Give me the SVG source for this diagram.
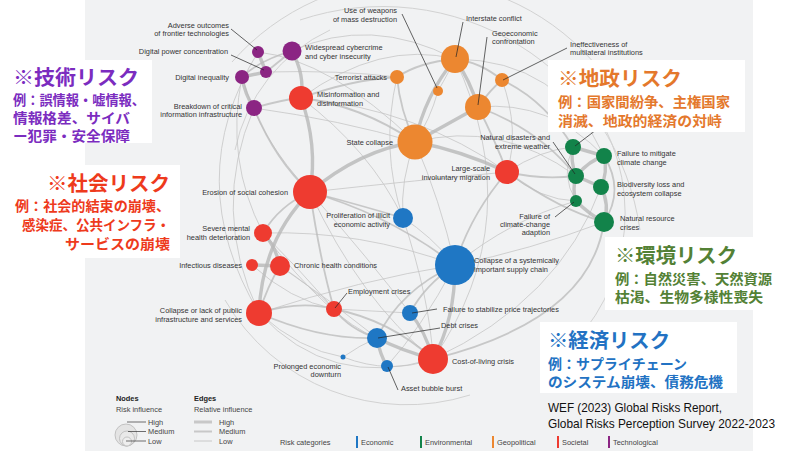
<svg xmlns="http://www.w3.org/2000/svg" width="800" height="451" viewBox="0 0 800 451">
<style>
.bg{fill:#f1f2f3}
.e1{fill:none;stroke:#c4c4c4;stroke-width:0.9;stroke-opacity:0.85}
.e2{fill:none;stroke:#bdbdbd;stroke-width:1.8;stroke-opacity:0.8}
.e3{fill:none;stroke:#b8b8b8;stroke-width:3.4;stroke-opacity:0.8}
.arc{fill:none;stroke:#d2d2d2;stroke-width:1}
.lbl{font-family:"Liberation Sans",Arial,sans-serif;font-size:7.4px;fill:#333}
.r{text-anchor:end}
.ld{stroke:#222;stroke-width:0.7;fill:none}
.eco{fill:#1f77c4}.env{fill:#12834a}.geo{fill:#ec8730}.soc{fill:#ee3b30}.tech{fill:#8b2583}
.jp{font-family:"Noto Sans CJK JP",sans-serif;font-weight:bold}
.t{font-size:20px}.s{font-size:14px}
.box{fill:#ffffff}
.lg{font-family:"Liberation Sans",Arial,sans-serif;font-size:7.4px;fill:#444}
.lgb{font-family:"Liberation Sans",Arial,sans-serif;font-size:7.4px;fill:#222;font-weight:bold}
.ref{font-family:"Liberation Sans",Arial,sans-serif;font-size:13px;fill:#111}
</style>
<rect x="0" y="0" width="800" height="451" fill="#ffffff"/>
<rect class="bg" x="85" y="0" width="668" height="451"/>

<g id="connectors">
<path class="arc" d="M232,62 A240 240 0 0 1 600,70"/>
<path class="arc" d="M560,70 A190 190 0 0 1 585,330"/>
<path class="arc" d="M225,300 A210 210 0 0 0 470,395"/>
<path class="arc" d="M300,20 A260 260 0 0 1 640,230"/>
<path class="arc" d="M235,150 A170 170 0 0 1 330,30"/>
<path class="e1" d="M292,51 Q370,15 455,59"/>
<path class="e1" d="M301,98 Q380,40 455,59"/>
<path class="e1" d="M258,52 Q330,60 415,142"/>
<path class="e1" d="M242,77 Q260,140 310,192"/>
<path class="e1" d="M310,192 Q360,300 433,359"/>
<path class="e1" d="M259,313 Q330,390 433,359"/>
<path class="e1" d="M343,357 Q360,345 377,338"/>
<path class="e1" d="M343,357 Q390,375 433,359"/>
<path class="e1" d="M343,357 Q300,350 259,313"/>
<path class="e1" d="M263,233 Q300,270 334,309"/>
<path class="e1" d="M280,266 Q310,285 334,309"/>
<path class="e1" d="M403,218 Q430,235 455,265"/>
<path class="e1" d="M403,218 Q400,180 415,142"/>
<path class="e1" d="M415,142 Q500,120 576,176"/>
<path class="e1" d="M478,107 Q550,100 604,156"/>
<path class="e1" d="M455,59 Q560,60 604,156"/>
<path class="e1" d="M507,172 Q540,150 573,147"/>
<path class="e1" d="M507,172 Q540,200 576,201"/>
<path class="e1" d="M604,222 Q530,250 455,265"/>
<path class="e1" d="M576,201 Q510,220 455,265"/>
<path class="e1" d="M433,359 Q560,300 601,187"/>
<path class="e1" d="M415,142 Q440,200 455,265"/>
<path class="e1" d="M254,108 Q210,210 259,313"/>
<path class="e1" d="M242,77 Q225,160 263,233"/>
<path class="e1" d="M258,52 Q180,180 259,313"/>
<path class="e1" d="M455,59 Q530,220 433,359"/>
<path class="e1" d="M301,98 Q370,150 403,218"/>
<path class="e1" d="M310,192 Q370,260 410,313"/>
<path class="e1" d="M334,309 L410,313"/>
<path class="e1" d="M280,266 Q330,300 377,338"/>
<path class="e1" d="M403,218 Q430,300 433,359"/>
<path class="e1" d="M301,98 Q420,110 507,172"/>
<path class="e1" d="M397,77 Q380,150 403,218"/>
<path class="e1" d="M263,233 Q360,230 455,265"/>
<path class="e1" d="M252,265 Q290,300 334,309"/>
<path class="e1" d="M455,265 Q420,330 387,366"/>
<path class="e1" d="M502,80 Q520,130 507,172"/>
<path class="e1" d="M573,147 Q560,175 576,201"/>
<path class="e1" d="M266,72 Q340,70 397,77"/>
<path class="e1" d="M254,108 Q340,120 415,142"/>
<path class="e1" d="M310,192 Q420,180 507,172"/>
<path class="e1" d="M259,313 Q360,280 455,265"/>
<path class="e1" d="M438,91 Q430,120 415,142"/>
<path class="e1" d="M438,91 Q450,70 455,59"/>
<path class="e1" d="M263,233 Q330,320 377,338"/>
<path class="e2" d="M455,59 Q420,62 397,77"/>
<path class="e2" d="M397,77 Q400,110 415,142"/>
<path class="e2" d="M455,59 Q480,62 502,80"/>
<path class="e2" d="M502,80 Q490,90 478,107"/>
<path class="e2" d="M301,98 Q360,105 415,142"/>
<path class="e2" d="M301,98 Q350,80 397,77"/>
<path class="e2" d="M310,192 Q360,205 403,218"/>
<path class="e2" d="M310,192 Q320,260 334,309"/>
<path class="e2" d="M310,192 Q280,205 263,233"/>
<path class="e2" d="M507,172 Q540,180 576,176"/>
<path class="e2" d="M507,172 Q470,215 455,265"/>
<path class="e2" d="M507,172 Q560,210 604,222"/>
<path class="e2" d="M455,265 Q425,285 410,313"/>
<path class="e2" d="M455,265 Q400,290 377,338"/>
<path class="e2" d="M334,309 Q350,330 377,338"/>
<path class="e2" d="M334,309 Q390,320 433,359"/>
<path class="e2" d="M259,313 Q300,300 334,309"/>
<path class="e2" d="M259,313 Q268,285 280,266"/>
<path class="e2" d="M254,108 Q275,160 310,192"/>
<path class="e2" d="M254,108 Q280,100 301,98"/>
<path class="e2" d="M502,80 Q545,100 573,147"/>
<path class="e2" d="M478,107 Q495,140 507,172"/>
<path class="e2" d="M310,192 Q390,215 455,265"/>
<path class="e2" d="M377,338 Q320,340 259,313"/>
<path class="e2" d="M478,107 Q540,130 576,176"/>
<path class="e2" d="M292,51 L266,72"/>
<path class="e2" d="M292,51 Q260,60 242,77"/>
<path class="e2" d="M604,156 Q625,190 604,222"/>
<path class="e2" d="M433,359 Q590,320 604,222"/>
<path class="e3" d="M455,59 Q470,80 478,107"/>
<path class="e3" d="M415,142 Q360,150 310,192"/>
<path class="e3" d="M310,192 Q262,240 259,313"/>
<path class="e3" d="M263,233 Q275,245 280,266"/>
<path class="e3" d="M252,265 L280,266"/>
<path class="e3" d="M377,338 Q400,350 433,359"/>
<path class="e3" d="M410,313 Q425,330 433,359"/>
<path class="e3" d="M377,338 Q380,355 387,366"/>
<path class="e3" d="M573,147 Q570,160 576,176"/>
<path class="e3" d="M576,176 Q572,190 576,201"/>
<path class="e3" d="M604,156 Q608,172 601,187"/>
<path class="e3" d="M601,187 Q610,205 604,222"/>
<path class="e3" d="M576,176 Q590,160 604,156"/>
<path class="e3" d="M573,147 L604,156"/>
<path class="e3" d="M576,176 L601,187"/>
<path class="e3" d="M576,201 Q590,215 604,222"/>
<path class="e3" d="M258,52 L266,72"/>
<path class="e3" d="M266,72 L242,77"/>
<path class="e3" d="M242,77 Q245,95 254,108"/>
<path class="e3" d="M292,51 Q305,75 301,98"/>
<path class="e3" d="M455,59 Q425,95 415,142"/>
<path class="e3" d="M310,192 Q318,145 301,98"/>
<path class="e3" d="M415,142 Q455,120 478,107"/>
<path class="e3" d="M507,172 Q460,150 415,142"/>
<path class="e3" d="M455,265 Q455,320 433,359"/>
</g>

<g id="adverse-outcomes"><circle class="tech" cx="258" cy="52" r="6"/><path class="ld" d="M231,29 L257,50"/><text class="lbl r" x="229" y="27.5">Adverse outcomes</text><text class="lbl r" x="229" y="36">of frontier technologies</text></g>
<g id="digital-power"><circle class="tech" cx="266" cy="72" r="6"/><path class="ld" d="M231,55 L264,70"/><text class="lbl r" x="228" y="54">Digital power concentration</text></g>
<g id="digital-inequality"><circle class="tech" cx="242" cy="77" r="7"/><text class="lbl r" x="229" y="79.5">Digital inequality</text></g>
<g id="cybercrime"><circle class="tech" cx="292" cy="51" r="9.5"/><text class="lbl" x="305" y="50">Widespread cybercrime</text><text class="lbl" x="305" y="58.5">and cyber insecurity</text></g>
<g id="breakdown-infra"><circle class="tech" cx="254" cy="108" r="8"/><text class="lbl r" x="242" y="108.5">Breakdown of critical</text><text class="lbl r" x="242" y="117">information infrastructure</text></g>

<g id="wmd"><circle class="geo" cx="438" cy="91" r="5"/><path class="ld" d="M402,14 L437,88"/><text class="lbl r" x="397" y="13">Use of weapons</text><text class="lbl r" x="397" y="21.5">of mass destruction</text></g>
<g id="interstate"><circle class="geo" cx="455" cy="59" r="14"/><path class="ld" d="M463,22 L456,57"/><text class="lbl" x="466" y="21">Interstate conflict</text></g>
<g id="geoeconomic"><circle class="geo" cx="478" cy="107" r="13"/><path class="ld" d="M487,37 L478,105"/><text class="lbl" x="492" y="35.5">Geoeconomic</text><text class="lbl" x="492" y="44">confrontation</text></g>
<g id="ineffectiveness"><circle class="geo" cx="502" cy="80" r="7"/><path class="ld" d="M567,48 L503,80"/><text class="lbl" x="570" y="46.5">Ineffectiveness of</text><text class="lbl" x="570" y="55">multilateral institutions</text></g>
<g id="terrorist"><circle class="geo" cx="397" cy="77" r="7"/><text class="lbl r" x="387" y="80">Terrorist attacks</text></g>
<g id="state-collapse"><circle class="geo" cx="415" cy="142" r="17.5"/><text class="lbl r" x="393" y="145">State collapse</text></g>

<g id="misinformation"><circle class="soc" cx="301" cy="98" r="12"/><text class="lbl" x="317" y="97">Misinformation and</text><text class="lbl" x="317" y="105.5">disinformation</text></g>
<g id="migration"><circle class="soc" cx="507" cy="172" r="12"/><text class="lbl r" x="490" y="171">Large-scale</text><text class="lbl r" x="490" y="179.5">involuntary migration</text></g>
<g id="erosion"><circle class="soc" cx="310" cy="192" r="17"/><text class="lbl r" x="288" y="195">Erosion of social cohesion</text></g>
<g id="mental-health"><circle class="soc" cx="263" cy="233" r="9"/><text class="lbl r" x="250" y="231">Severe mental</text><text class="lbl r" x="250" y="239.5">health deterioration</text></g>
<g id="infectious"><circle class="soc" cx="252" cy="265" r="6"/><text class="lbl r" x="242" y="268">Infectious diseases</text></g>
<g id="chronic"><circle class="soc" cx="280" cy="266" r="10"/><text class="lbl" x="294" y="268">Chronic health conditions</text></g>
<g id="public-infra"><circle class="soc" cx="259" cy="313" r="13"/><text class="lbl r" x="242" y="313">Collapse or lack of public</text><text class="lbl r" x="242" y="321.5">infrastructure and services</text></g>
<g id="employment"><circle class="soc" cx="334" cy="309" r="8"/><path class="ld" d="M347,293 L335,308"/><text class="lbl" x="348" y="293.5">Employment crises</text></g>
<g id="cost-of-living"><circle class="soc" cx="433" cy="359" r="15"/><text class="lbl" x="452" y="363.5">Cost-of-living crisis</text></g>

<g id="illicit"><circle class="eco" cx="403" cy="218" r="10"/><text class="lbl r" x="390" y="218">Proliferation of illicit</text><text class="lbl r" x="390" y="226.5">economic activity</text></g>
<g id="supply-chain"><circle class="eco" cx="455" cy="265" r="20"/><text class="lbl" x="474" y="263">Collapse of a systemically</text><text class="lbl" x="474" y="271.5">important supply chain</text></g>
<g id="price"><circle class="eco" cx="410" cy="313" r="8"/><path class="ld" d="M437,309 L412,313"/><text class="lbl" x="443" y="312">Failure to stabilize price trajectories</text></g>
<g id="debt"><circle class="eco" cx="377" cy="338" r="10"/><path class="ld" d="M440,328 L378,338"/><text class="lbl" x="441" y="327.5">Debt crises</text></g>
<g id="asset-bubble"><circle class="eco" cx="387" cy="366" r="6"/><path class="ld" d="M398,390 L388,367"/><text class="lbl" x="401" y="391">Asset bubble burst</text></g>
<g id="prolonged"><circle class="eco" cx="343" cy="357" r="2.5"/><text class="lbl r" x="341" y="368.5">Prolonged economic</text><text class="lbl r" x="341" y="377">downturn</text></g>

<g id="env-top"><circle class="env" cx="573" cy="147" r="8"/><path class="ld" d="M575,146 L596,130"/></g>
<g id="natural-disasters"><circle class="env" cx="576" cy="176" r="8"/><path class="ld" d="M553,142 L575,174"/><text class="lbl r" x="550" y="140">Natural disasters and</text><text class="lbl r" x="550" y="148.5">extreme weather</text></g>
<g id="adaption"><circle class="env" cx="576" cy="201" r="6"/><path class="ld" d="M555,217 L574,202"/><text class="lbl r" x="550" y="219">Failure of</text><text class="lbl r" x="550" y="227">climate-change</text><text class="lbl r" x="550" y="235">adaption</text></g>
<g id="mitigate"><circle class="env" cx="604" cy="156" r="8"/><text class="lbl" x="617" y="156">Failure to mitigate</text><text class="lbl" x="617" y="164.5">climate change</text></g>
<g id="biodiversity"><circle class="env" cx="601" cy="187" r="8"/><text class="lbl" x="617" y="187">Biodiversity loss and</text><text class="lbl" x="617" y="195.5">ecosystem collapse</text></g>
<g id="natural-resource"><circle class="env" cx="604" cy="222" r="10"/><text class="lbl" x="620" y="221">Natural resource</text><text class="lbl" x="620" y="229.5">crises</text></g>

<g id="legend">
<text class="lgb" x="116" y="400.5">Nodes</text>
<text class="lg" x="116" y="411.5">Risk influence</text>
<circle cx="126" cy="435" r="11" fill="#e4e4e4" stroke="#b8b8b8" stroke-width="0.8"/>
<circle cx="127" cy="438.5" r="7.5" fill="#e9e9e9" stroke="#b8b8b8" stroke-width="0.8"/>
<circle cx="127" cy="441.5" r="4.5" fill="#eeeeee" stroke="#b8b8b8" stroke-width="0.8"/>
<path d="M127,422 L146,422 M128,431.5 L146,431.5 M126,441 L146,441" stroke="#333" stroke-width="0.7"/>
<text class="lg" x="148" y="424.5">High</text>
<text class="lg" x="148" y="434">Medium</text>
<text class="lg" x="148" y="443.5">Low</text>
<text class="lgb" x="194" y="400.5">Edges</text>
<text class="lg" x="194" y="411.5">Relative influence</text>
<path d="M194,422 L212,422" stroke="#c8c8c8" stroke-width="3"/>
<path d="M194,431.5 L212,431.5" stroke="#c8c8c8" stroke-width="2"/>
<path d="M194,441 L212,441" stroke="#c8c8c8" stroke-width="1"/>
<text class="lg" x="219" y="424.5">High</text>
<text class="lg" x="219" y="434">Medium</text>
<text class="lg" x="219" y="443.5">Low</text>
<text class="lg" x="280" y="444.5">Risk categories</text>
<rect x="356" y="436" width="2" height="12" fill="#1f77c4"/><text class="lg" x="361" y="444.5">Economic</text>
<rect x="420" y="436" width="2" height="12" fill="#12834a"/><text class="lg" x="425" y="444.5">Environmental</text>
<rect x="492" y="436" width="2" height="12" fill="#ec8730"/><text class="lg" x="497" y="444.5">Geopolitical</text>
<rect x="557" y="436" width="2" height="12" fill="#ee3b30"/><text class="lg" x="562" y="444.5">Societal</text>
<rect x="608" y="436" width="2" height="12" fill="#8b2583"/><text class="lg" x="613" y="444.5">Technological</text>
</g>

<g id="note-tech">
<rect class="box" x="0" y="60" width="152" height="83"/>
<g class="jp" fill="#7b2cbf">
<text class="t" x="13" y="85" textLength="126" lengthAdjust="spacingAndGlyphs">※技術リスク</text>
<text class="s" x="13" y="105" textLength="132" lengthAdjust="spacingAndGlyphs">例：誤情報・嘘情報、</text>
<text class="s" x="13" y="123" textLength="117" lengthAdjust="spacingAndGlyphs">情報格差、サイバ</text>
<text class="s" x="13" y="141" textLength="117" lengthAdjust="spacingAndGlyphs">ー犯罪・安全保障</text>
</g>
</g>
<g id="note-soc">
<rect class="box" x="0" y="165" width="180" height="93"/>
<g class="jp" fill="#ee3a1c">
<text class="t" x="47" y="191" textLength="123" lengthAdjust="spacingAndGlyphs">※社会リスク</text>
<text class="s" x="15" y="211" textLength="155" lengthAdjust="spacingAndGlyphs">例：社会的結束の崩壊、</text>
<text class="s" x="22" y="230" textLength="148" lengthAdjust="spacingAndGlyphs">感染症、公共インフラ・</text>
<text class="s" x="65" y="249" textLength="105" lengthAdjust="spacingAndGlyphs">サービスの崩壊</text>
</g>
</g>
<g id="note-geo">
<rect class="box" x="548" y="60" width="197" height="72"/>
<g class="jp" fill="#e4782c">
<text class="t" x="558" y="86" textLength="124" lengthAdjust="spacingAndGlyphs">※地政リスク</text>
<text class="s" x="558" y="107" textLength="172" lengthAdjust="spacingAndGlyphs">例：国家間紛争、主権国家</text>
<text class="s" x="558" y="126" textLength="164" lengthAdjust="spacingAndGlyphs">消滅、地政的経済の対峙</text>
</g>
</g>
<g id="note-env">
<rect class="box" x="605" y="237" width="175" height="73"/>
<g class="jp" fill="#538135">
<text class="t" x="615" y="263" textLength="122" lengthAdjust="spacingAndGlyphs">※環境リスク</text>
<text class="s" x="615" y="284" textLength="157" lengthAdjust="spacingAndGlyphs">例：自然災害、天然資源</text>
<text class="s" x="615" y="302" textLength="148" lengthAdjust="spacingAndGlyphs">枯渇、生物多様性喪失</text>
</g>
</g>
<g id="note-eco">
<rect class="box" x="540" y="322" width="197" height="71"/>
<g class="jp" fill="#2272c3">
<text class="t" x="548" y="348" textLength="122" lengthAdjust="spacingAndGlyphs">※経済リスク</text>
<text class="s" x="548" y="369" textLength="139" lengthAdjust="spacingAndGlyphs">例：サプライチェーン</text>
<text class="s" x="548" y="387" textLength="175" lengthAdjust="spacingAndGlyphs">のシステム崩壊、債務危機</text>
</g>
</g>
<g id="source">
<text class="ref" x="548" y="412" textLength="174" lengthAdjust="spacingAndGlyphs">WEF (2023) Global Risks Report,</text>
<text class="ref" x="548" y="428" textLength="227" lengthAdjust="spacingAndGlyphs">Global Risks Perception Survey 2022-2023</text>
</g>
</svg>
